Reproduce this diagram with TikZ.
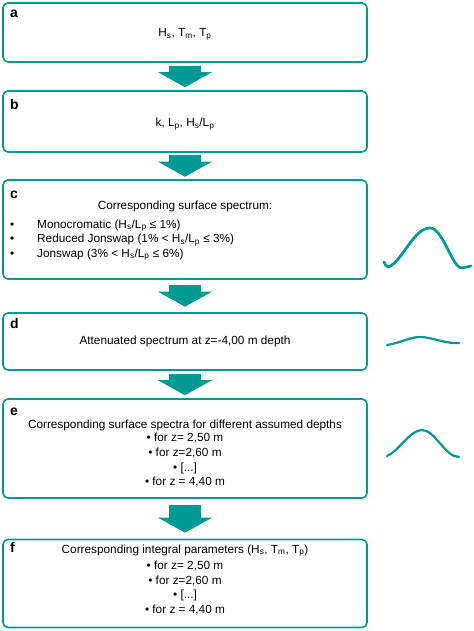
\documentclass[tikz,border=0pt]{standalone}
\usepackage{fontspec}
\setmainfont{Liberation Sans}
\usetikzlibrary{arrows.meta}
\definecolor{flowteal}{RGB}{0,153,148}
\newcommand{\tsub}[1]{\textsubscript{#1}}

\begin{document}
\begin{tikzpicture}[x=1bp, y=-1bp,
        every node/.style={font=\fontsize{11.8bp}{14bp}\selectfont, inner sep=0pt},
        box/.style={draw=flowteal, line width=1.6bp, rounded corners=5bp, minimum width=364bp},
        tag/.style={anchor=base west, font=\fontsize{14bp}{16bp}\selectfont\bfseries},
        line/.style={anchor=base},
        item/.style={anchor=base west},
        flow/.style={draw=flowteal, line width=32bp, -{Triangle[width=54bp, length=15bp, line width=0pt]}},
        wave/.style={draw=flowteal, line width=2.2bp, line cap=round}]
        \useasboundingbox (0,0) rectangle (474,631);

        % Boxes
        \node[box, minimum height=59bp] (a) at (185,32.5) {};
        \node[box, minimum height=61bp] (b) at (185,121.5) {};
        \node[box, minimum height=99bp] (c) at (185,229.5) {};
        \node[box, minimum height=57bp] (d) at (185,341.5) {};
        \node[box, minimum height=99bp] (e) at (185,448.5) {};
        \node[box, minimum height=88bp] (f) at (185,583.5) {};

        % Tags
        \node[tag] (atag) at (10,18) {a};
        \node[tag] (btag) at (10,110) {b};
        \node[tag] (ctag) at (10,198) {c};
        \node[tag] (dtag) at (10,328) {d};
        \node[tag] (etag) at (10,415) {e};
        \node[tag] (ftag) at (10,552) {f};

        % Box a and b
        \node[line] (atext) at (185,37) {H\tsub{s}, T\tsub{m}, T\tsub{p}};
        \node[line] (btext) at (185,127) {k, L\tsub{p}, H\tsub{s}/L\tsub{p}};

        % Box c
        \node[line] (ctitle) at (185,209) {Corresponding surface spectrum:};
        \node[item] (cdot1) at (10,228) {•};
        \node[item] (cdot2) at (10,242.5) {•};
        \node[item] (cdot3) at (10,257) {•};
        \node[item] (citem1) at (37,228) {Monocromatic (H\tsub{s}/L\tsub{p} ≤ 1\%)};
        \node[item] (citem2) at (37,242.5) {Reduced Jonswap (1\% < H\tsub{s}/L\tsub{p} ≤ 3\%)};
        \node[item] (citem3) at (37,257) {Jonswap (3\% < H\tsub{s}/L\tsub{p} ≤ 6\%)};

        % Box d
        \node[line] (dtext) at (185,344) {Attenuated spectrum at z=-4,00 m depth};

        % Box e
        \node[line] (etitle) at (185,428) {Corresponding surface spectra for different assumed depths};
        \node[line] (eline1) at (185,441) {• for z= 2,50 m};
        \node[line] (eline2) at (185,456) {• for z=2,60 m};
        \node[line] (eline3) at (185,471) {• [...]};
        \node[line] (eline4) at (185,485) {• for z = 4,40 m};

        % Box f
        \node[line] (ftitle) at (185,553) {Corresponding integral parameters (H\tsub{s}, T\tsub{m}, T\tsub{p})};
        \node[line] (fline1) at (185,569) {• for z= 2,50 m};
        \node[line] (fline2) at (185,584) {• for z=2,60 m};
        \node[line] (fline3) at (185,598) {• [...]};
        \node[line] (fline4) at (185,613) {• for z = 4,40 m};

        % Arrows
        \draw[flow, shorten <=3bp, shorten >=3bp] (a.south) -- (b.north);
        \draw[flow, shorten <=2.5bp, shorten >=2.5bp] (b.south) -- (c.north);
        \draw[flow, shorten <=5.5bp, shorten >=5.5bp] (c.south) -- (d.north);
        \draw[flow, shorten <=3bp, shorten >=3bp] (d.south) -- (e.north);
        \draw[flow, shorten <=6bp, shorten >=6bp] (e.south) -- (f.north);

        % Spectra
        \draw[wave, line width=2.7bp] (384,262) .. controls (386,267) and (388,268) .. (392,265)
            .. controls (405,255) and (415,228) .. (430,228)
            .. controls (443,228) and (452,268) .. (462,268) -- (471,266);
        \draw[wave] (387,345) .. controls (400,343) and (410,337) .. (420,337)
            .. controls (432,337) and (445,344) .. (459,343);
        \draw[wave] (387,456) .. controls (400,450) and (410,430) .. (422,430)
            .. controls (435,430) and (445,457) .. (459,457);
    \end{tikzpicture}
\end{document}
